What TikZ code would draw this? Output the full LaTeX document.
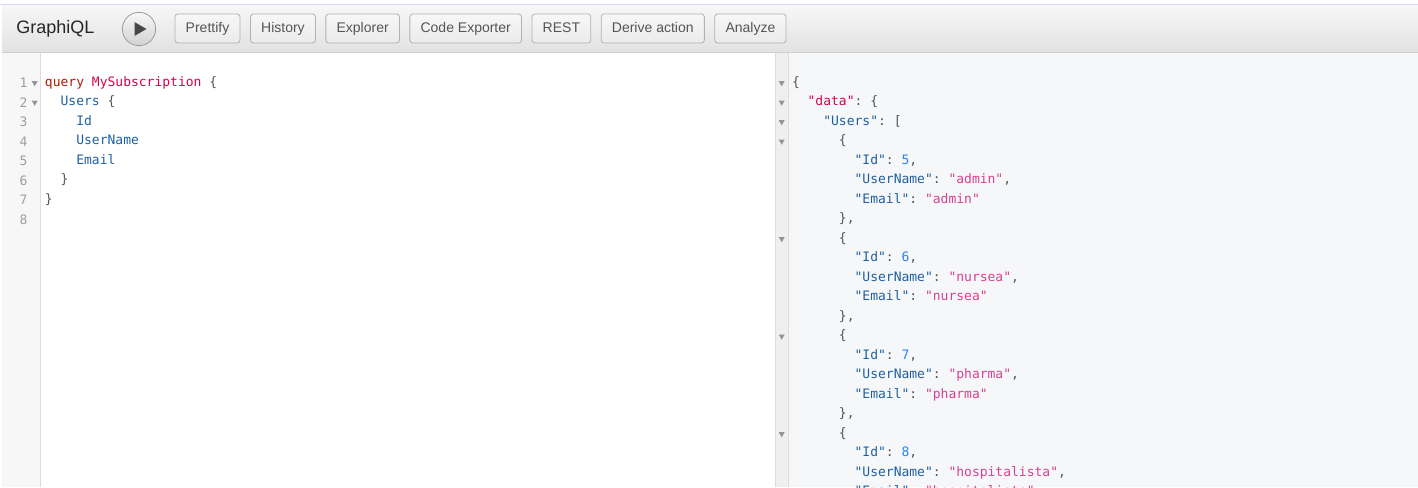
\documentclass[tikz,border=0pt]{standalone}
\usepackage{fontspec}
\setmainfont{Liberation Sans}
\newfontfamily\codefont{DejaVu Sans Mono}
\usetikzlibrary{shapes,shapes.geometric,positioning}

\definecolor{barTop}{HTML}{F7F7F7}
\definecolor{barBottom}{HTML}{E2E2E2}
\definecolor{barLine}{HTML}{D0D0D0}
\definecolor{topLine}{HTML}{D5DFEE}
\definecolor{gutterLeft}{HTML}{F7F7F7}
\definecolor{gutterRight}{HTML}{EFEFEF}
\definecolor{gutterLine}{HTML}{DDDDDD}
\definecolor{resultBg}{HTML}{F6F7F9}
\definecolor{keyCol}{HTML}{B11A04}
\definecolor{defCol}{HTML}{D2054E}
\definecolor{propCol}{HTML}{1F61A0}
\definecolor{punctCol}{HTML}{555555}
\definecolor{numCol}{HTML}{2882F9}
\definecolor{strCol}{HTML}{D64292}

\newcommand{\cKey}[1]{\textcolor{keyCol}{#1}}
\newcommand{\cDef}[1]{\textcolor{defCol}{#1}}
\newcommand{\cProp}[1]{\textcolor{propCol}{#1}}
\newcommand{\cNum}[1]{\textcolor{numCol}{#1}}
\newcommand{\cStr}[1]{\textcolor{strCol}{#1}}

\tikzset{
  toolbtn/.style={draw=barLine!85!black, rounded corners=2.2pt, top color=barTop, bottom color=barBottom!70!white,
    text=punctCol, font=\fontsize{10.5}{12}\selectfont, inner xsep=8.05pt, inner ysep=0pt, outer sep=0pt,
    minimum height=21.75pt, text height=8pt, text depth=2pt, line width=0.6pt},
  nextbtn/.style={toolbtn, right=7.8pt of #1},
  codeline/.style={inner sep=0pt, outer sep=0pt, text=punctCol, text height=7.5pt, text depth=2.25pt,
    font=\codefont\frenchspacing\fontsize{9.75}{12}\selectfont},
  nextline/.style={codeline, below=14.625pt of #1.west, anchor=west},
  linenum/.style={inner sep=0pt, text=black!38, font=\codefont\fontsize{9.75}{12}\selectfont,
    left=12.9pt of #1.west, anchor=east},
  foldmark/.style={regular polygon, regular polygon sides=3, shape border rotate=180, inner sep=0pt,
    minimum size=5.2pt, fill=black!42},
  foldleft/.style={foldmark, left=6pt of #1.west},
  foldright/.style={foldmark, left=6pt of #1.west}
}

\begin{document}
\begin{tikzpicture}[x=0.75pt, y=-0.75pt]
  \useasboundingbox (0,0) rectangle (1418,487);
  \clip (0,0) rectangle (1418,487);

  % panes
  \fill[white] (0,0) rectangle (1418,487);
  \fill[topLine] (0,4) rectangle (1418,5);
  \fill[resultBg] (788,53) rectangle (1418,487);
  \fill[gutterRight] (775,53) rectangle (788,487);
  \fill[gutterLine] (775,53) rectangle (776,487);
  \fill[gutterLine] (788,53) rectangle (789,487);
  \fill[gutterLeft] (2,53) rectangle (40,487);
  \fill[gutterLine] (40,53) rectangle (41,487);

  % toolbar
  \shade[top color=barTop, bottom color=barBottom] (2,5) rectangle (1418,52);
  \fill[barLine] (2,52) rectangle (1418,53);

  \node[anchor=west, inner sep=0pt, text=black!85, font=\fontsize{13.5}{16}\selectfont] (title) at (16,29) {GraphiQL};
  \node[circle, draw=black!38, top color=barTop, bottom color=barBottom!93!black, minimum size=25pt, inner sep=0pt, line width=0.6pt] (play) at (139,29) {};
  \node[regular polygon, regular polygon sides=3, shape border rotate=-90, fill=black!72, inner sep=0pt, minimum size=12pt] (playicon) at (138.5,29) {};

  \node[toolbtn, anchor=west] (prettify) at (175,28.5) {Prettify};
  \node[nextbtn=prettify] (history) {History};
  \node[nextbtn=history] (explorer) {Explorer};
  \node[nextbtn=explorer] (exporter) {Code Exporter};
  \node[nextbtn=exporter] (rest) {REST};
  \node[nextbtn=rest] (derive) {Derive action};
  \node[nextbtn=derive] (analyze) {Analyze};

  % query pane
  \node[codeline, anchor=west] (q1) at (45,82.8) {\cKey{query} \cDef{MySubscription} \{};
  \node[nextline=q1] (q2) {\ \ \cProp{Users} \{};
  \node[nextline=q2] (q3) {\ \ \ \ \cProp{Id}};
  \node[nextline=q3] (q4) {\ \ \ \ \cProp{UserName}};
  \node[nextline=q4] (q5) {\ \ \ \ \cProp{Email}};
  \node[nextline=q5] (q6) {\ \ \}};
  \node[nextline=q6] (q7) {\}};
  \node[nextline=q7] (q8) {};

  \node[linenum=q1] (n1) {1};
  \node[linenum=q2] (n2) {2};
  \node[linenum=q3] (n3) {3};
  \node[linenum=q4] (n4) {4};
  \node[linenum=q5] (n5) {5};
  \node[linenum=q6] (n6) {6};
  \node[linenum=q7] (n7) {7};
  \node[linenum=q8] (n8) {8};

  \node[foldleft=q1] (qf1) {};
  \node[foldleft=q2] (qf2) {};

  % result pane
  \node[codeline, anchor=west] (r1) at (792,82.8) {\{};
  \node[nextline=r1] (r2) {\ \ \cDef{"data"}: \{};
  \node[nextline=r2] (r3) {\ \ \ \ \cProp{"Users"}: [};
  \node[nextline=r3] (r4) {\ \ \ \ \ \ \{};
  \node[nextline=r4] (r5) {\ \ \ \ \ \ \ \ \cProp{"Id"}: \cNum{5},};
  \node[nextline=r5] (r6) {\ \ \ \ \ \ \ \ \cProp{"UserName"}: \cStr{"admin"},};
  \node[nextline=r6] (r7) {\ \ \ \ \ \ \ \ \cProp{"Email"}: \cStr{"admin"}};
  \node[nextline=r7] (r8) {\ \ \ \ \ \ \},};
  \node[nextline=r8] (r9) {\ \ \ \ \ \ \{};
  \node[nextline=r9] (r10) {\ \ \ \ \ \ \ \ \cProp{"Id"}: \cNum{6},};
  \node[nextline=r10] (r11) {\ \ \ \ \ \ \ \ \cProp{"UserName"}: \cStr{"nursea"},};
  \node[nextline=r11] (r12) {\ \ \ \ \ \ \ \ \cProp{"Email"}: \cStr{"nursea"}};
  \node[nextline=r12] (r13) {\ \ \ \ \ \ \},};
  \node[nextline=r13] (r14) {\ \ \ \ \ \ \{};
  \node[nextline=r14] (r15) {\ \ \ \ \ \ \ \ \cProp{"Id"}: \cNum{7},};
  \node[nextline=r15] (r16) {\ \ \ \ \ \ \ \ \cProp{"UserName"}: \cStr{"pharma"},};
  \node[nextline=r16] (r17) {\ \ \ \ \ \ \ \ \cProp{"Email"}: \cStr{"pharma"}};
  \node[nextline=r17] (r18) {\ \ \ \ \ \ \},};
  \node[nextline=r18] (r19) {\ \ \ \ \ \ \{};
  \node[nextline=r19] (r20) {\ \ \ \ \ \ \ \ \cProp{"Id"}: \cNum{8},};
  \node[nextline=r20] (r21) {\ \ \ \ \ \ \ \ \cProp{"UserName"}: \cStr{"hospitalista"},};
  \node[nextline=r21] (r22) {\ \ \ \ \ \ \ \ \cProp{"Email"}: \cStr{"hospitalista"}};

  \node[foldright=r1] (rf1) {};
  \node[foldright=r2] (rf2) {};
  \node[foldright=r3] (rf3) {};
  \node[foldright=r4] (rf4) {};
  \node[foldright=r9] (rf9) {};
  \node[foldright=r14] (rf14) {};
  \node[foldright=r19] (rf19) {};
\end{tikzpicture}
\end{document}
